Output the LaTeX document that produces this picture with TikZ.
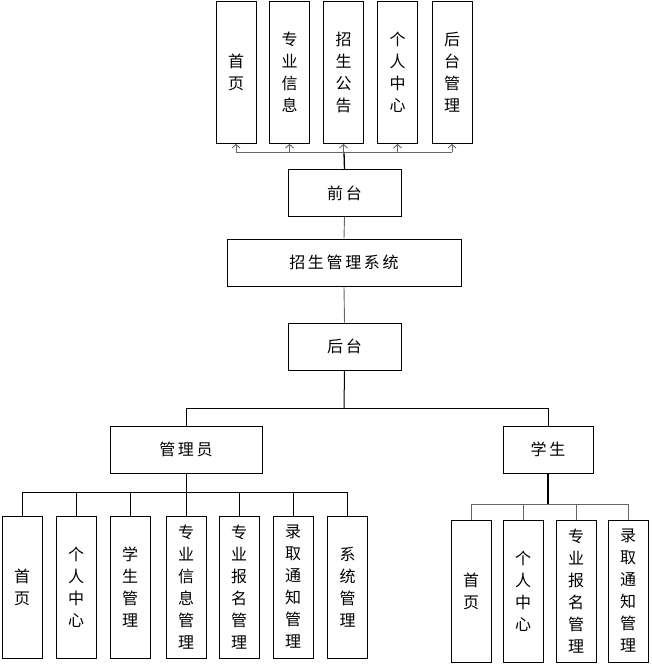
\documentclass[tikz,border=0pt]{standalone}
\usepackage{fontspec}
\setmainfont{Noto Sans CJK SC}
\usetikzlibrary{arrows.meta}
\tikzset{>={Straight Barb[length=3.5pt,width=8pt]}}
\tikzset{
	box/.style = {draw, line width=0.8pt, inner sep=0pt, minimum height=47pt,
		font=\fontsize{16}{22}\selectfont},
	tallbox/.style = {draw, line width=0.8pt, inner sep=0pt, minimum width=40pt,
		minimum height=142pt, align=center, font=\fontsize{16}{22}\selectfont},
	link/.style = {draw=black!60, line width=0.9pt}
}

\begin{document}
\begin{tikzpicture}[x=1pt, y=-1pt]
	\useasboundingbox (0,0) rectangle (652,664);
	% front end
	\node[tallbox] (f1) at (236,72.5) {首\\页};
	\node[tallbox] (f2) at (289.5,72.5) {专\\业\\信\\息};
	\node[tallbox] (f3) at (343.5,72.5) {招\\生\\公\\告};
	\node[tallbox] (f4) at (397.5,72.5) {个\\人\\中\\心};
	\node[tallbox] (f5) at (452,72.5) {后\\台\\管\\理};
	\node[box, minimum width=113pt] (qiantai) at (344.5,193) {前\,台};
	% system
	\node[box, minimum width=234pt] (xitong) at (344,262.5) {招\,生\,管\,理\,系\,统};
	\node[box, minimum width=113pt] (houtai) at (344.5,346.5) {后\,台};
	% roles
	\node[box, minimum width=152pt] (admin) at (186,449.5) {管\,理\,员};
	\node[box, minimum width=90pt] (student) at (548,449.5) {学\,生};
	% admin modules
	\node[tallbox] (a1) at (22,587) {首\\页};
	\node[tallbox] (a2) at (76,587) {个\\人\\中\\心};
	\node[tallbox] (a3) at (130,587) {学\\生\\管\\理};
	\node[tallbox] (a4) at (186,587) {专\\业\\信\\息\\管\\理};
	\node[tallbox] (a5) at (239,587) {专\\业\\报\\名\\管\\理};
	\node[tallbox] (a6) at (293,587) {录\\取\\通\\知\\管\\理};
	\node[tallbox] (a7) at (347.5,587) {系\\统\\管\\理};
	% student modules
	\node[tallbox] (s1) at (471,591) {首\\页};
	\node[tallbox] (s2) at (523,591) {个\\人\\中\\心};
	\node[tallbox] (s3) at (576,591) {专\\业\\报\\名\\管\\理};
	\node[tallbox] (s4) at (628,591) {录\\取\\通\\知\\管\\理};

	% connectors
	\coordinate (topbar) at (344,152);
	\coordinate (backbar) at (344,408);
	\coordinate (adminbar) at (186,492);
	\coordinate (studentbar) at (548,504);
	\draw[line width=1.3pt] (qiantai.north) -- (topbar);
	\draw[link] (f1.south |- topbar) -- (f5.south |- topbar);
	\foreach \n in {f1,f2,f3,f4,f5}
		\draw[link, ->] (\n.south |- topbar) -- (\n.south);
	\draw[link] (qiantai.south) -- (xitong.north);
	\draw[link] (xitong.south) -- (houtai.north);
	\draw[line width=1pt] (houtai.south) -- (backbar);
	\draw[line width=0.8pt] (admin.north |- backbar) -- (student.north |- backbar);
	\draw[line width=0.8pt] (admin.north |- backbar) -- (admin.north);
	\draw[line width=0.8pt] (student.north |- backbar) -- (student.north);
	\draw[line width=0.8pt] (admin.south) -- (adminbar);
	\draw[line width=0.8pt] (a1.north |- adminbar) -- (a7.north |- adminbar);
	\foreach \n in {a1,a2,a3,a4,a5,a6,a7}
		\draw[line width=0.8pt] (\n.north |- adminbar) -- (\n.north);
	\draw[line width=1.3pt] (student.south) -- (studentbar);
	\draw[link] (s1.north |- studentbar) -- (s4.north |- studentbar);
	\foreach \n in {s1,s2,s3,s4}
		\draw[link] (\n.north |- studentbar) -- (\n.north);
\end{tikzpicture}
\end{document}
